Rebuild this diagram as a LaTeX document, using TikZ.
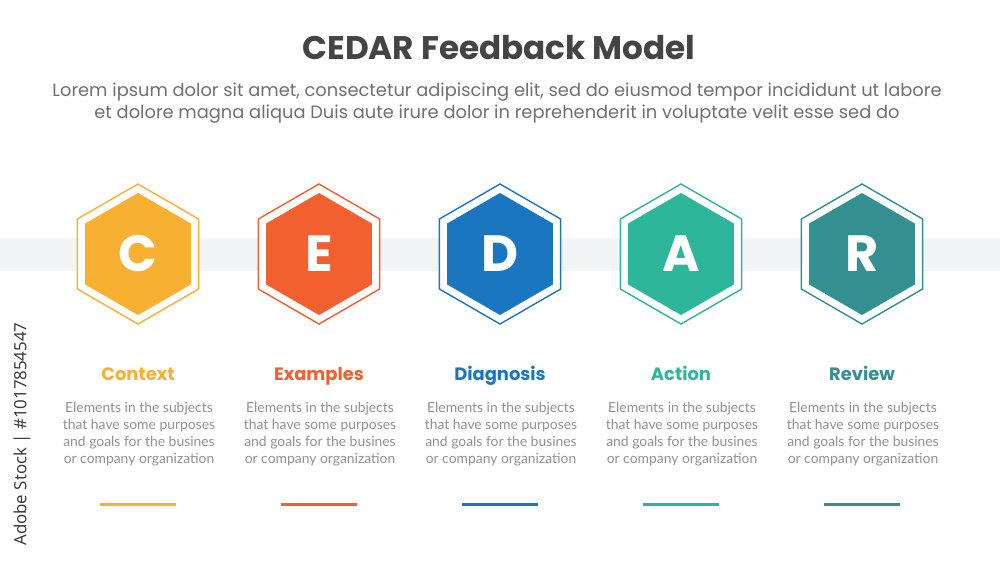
\documentclass[tikz,border=0pt]{standalone}
\usepackage{fontspec}
\setmainfont{Poppins}
\newfontfamily\bodyfont{Lato}
\newfontfamily\markfont{Open Sans}
\usetikzlibrary{shapes.geometric,positioning}

\definecolor{titlegray}{HTML}{444444}
\definecolor{subgray}{HTML}{707070}
\definecolor{bodygray}{HTML}{929292}
\definecolor{bandgray}{HTML}{F3F4F6}
\definecolor{ccontext}{HTML}{F7B031}
\definecolor{cexamples}{HTML}{F1602E}
\definecolor{cdiagnosis}{HTML}{1A76BF}
\definecolor{caction}{HTML}{2EB69B}
\definecolor{creview}{HTML}{348F90}

\tikzset{
  hexouter/.style={regular polygon, regular polygon sides=6, shape border rotate=30,
    minimum size=28mm, inner sep=0pt, draw=#1, line width=0.8pt, fill=white},
  hexinner/.style={regular polygon, regular polygon sides=6, shape border rotate=30,
    minimum size=24.4mm, inner sep=0pt, fill=#1, text=white,
    font=\bfseries\fontsize{29}{29}\selectfont},
  headtext/.style={inner sep=0pt, anchor=base, text=#1, font=\bfseries\fontsize{10.2}{12}\selectfont},
  bodytext/.style={inner sep=0pt, align=center, text=bodygray,
    font=\bodyfont\fontsize{7.9}{9.65}\selectfont},
  barline/.style={inner sep=0pt, minimum width=15.2mm, minimum height=0.62mm, fill=#1}
}

\begin{document}
\begin{tikzpicture}[x=0.2mm, y=-0.2mm]
  \useasboundingbox (0,0) rectangle (1000,563);
  \fill[white] (0,0) rectangle (1000,563);

  % Title and subtitle
  \node[inner sep=0pt, text=titlegray, font=\fontsize{18.6}{22}\selectfont\bfseries] (title) at (499,48) {CEDAR Feedback Model};
  \node[inner sep=0pt, align=center, text=subgray, font=\fontsize{10.15}{12.5}\selectfont] (subtitle) at (497,103)
    {Lorem ipsum dolor sit amet, consectetur adipiscing elit, sed do eiusmod tempor incididunt ut labore\\
     et dolore magna aliqua Duis aute irure dolor in reprehenderit in voluptate velit esse sed do};

  % Background band
  \fill[bandgray] (0,238) rectangle (1000,271);

  % Hexagon nodes
  \node[hexouter=ccontext] (hc) at (138,254) {};
  \node[hexinner=ccontext] (lc) at (138,254) {C};
  \node[hexouter=cexamples] (he) at (319,254) {};
  \node[hexinner=cexamples] (le) at (319,254) {E};
  \node[hexouter=cdiagnosis] (hd) at (500,254) {};
  \node[hexinner=cdiagnosis] (ld) at (500,254) {D};
  \node[hexouter=caction] (ha) at (681,254) {};
  \node[hexinner=caction] (la) at (681,254) {A};
  \node[hexouter=creview] (hr) at (862,254) {};
  \node[hexinner=creview] (lr) at (862,254) {R};

  % Heading nodes
  \node[headtext=ccontext] (tc) at (138,380) {Context};
  \node[headtext=cexamples] (te) at (319,380) {Examples};
  \node[headtext=cdiagnosis] (td) at (500,380) {Diagnosis};
  \node[headtext=caction] (ta) at (681,380) {Action};
  \node[headtext=creview] (tr) at (862,380) {Review};

  % Description nodes
  \node[bodytext] (dc) at (139,434) {Elements in the subjects\\that have some purposes\\and goals for the  busines\\ or company organization};
  \node[bodytext] (de) at (320,434) {Elements in the subjects\\that have some purposes\\and goals for the  busines\\ or company organization};
  \node[bodytext] (dd) at (501,434) {Elements in the subjects\\that have some purposes\\and goals for the  busines\\ or company organization};
  \node[bodytext] (da) at (682,434) {Elements in the subjects\\that have some purposes\\and goals for the  busines\\ or company organization};
  \node[bodytext] (dr) at (863,434) {Elements in the subjects\\that have some purposes\\and goals for the  busines\\ or company organization};

  % Bottom bars
  \node[barline=ccontext] (bc) at (138,504.5) {};
  \node[barline=cexamples] (be) at (319,504.5) {};
  \node[barline=cdiagnosis] (bd) at (500,504.5) {};
  \node[barline=caction] (ba) at (681,504.5) {};
  \node[barline=creview] (br) at (862,504.5) {};

  % Side label
  \node[inner sep=0pt, rotate=90, text=black!80, font=\markfont\fontsize{9.6}{11}\selectfont] (stock) at (22,434) {Adobe Stock | \#1017854547};
\end{tikzpicture}
\end{document}
